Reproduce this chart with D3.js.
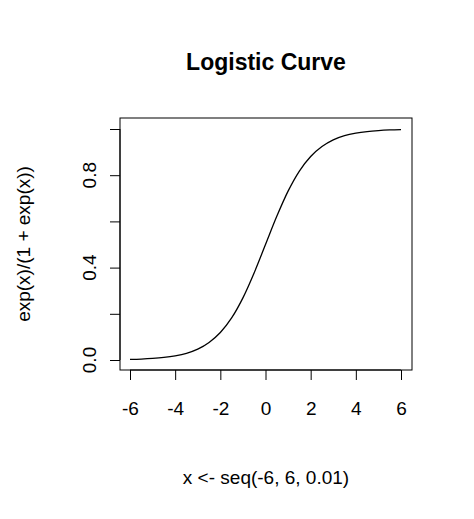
<!DOCTYPE html>
<html><head><meta charset="utf-8">
<script src="https://cdn.jsdelivr.net/npm/d3@7"></script>
<style>body{margin:0;background:#fff}text{font-family:"Liberation Sans",Arial,sans-serif}</style>
</head><body><svg id="c" width="474" height="519"></svg>
<script>
const xs = [-6,-5.5,-5,-4.5,-4,-3.5,-3,-2.5,-2,-1.5,-1,-0.5,0,0.5,1,1.5,2,2.5,3,3.5,4,4.5,5,5.5,6];
const ys = [0.0025,0.004,0.0067,0.011,0.018,0.029,0.047,0.076,0.119,0.182,0.269,0.378,0.5,0.622,0.731,0.818,0.881,0.924,0.953,0.971,0.982,0.989,0.9933,0.996,0.9975];
const xTicks = [-6,-4,-2,0,2,4,6];
const yTicks = [0,0.2,0.4,0.6,0.8,1.0];
const yLabelTicks = [0,0.4,0.8];

const svg = d3.select("#c");
const x = d3.scaleLinear().domain([-6,6]).range([130,401]);
const y = d3.scaleLinear().domain([0,1]).range([360,129]);
svg.append("rect").attr("x",120).attr("y",118).attr("width",292).attr("height",252)
  .attr("fill","none").attr("stroke","#000");
const line = d3.line().x((d,i)=>x(xs[i])).y(d=>y(d)).curve(d3.curveMonotoneX);
svg.append("path").datum(ys).attr("d",line).attr("fill","none").attr("stroke","#000").attr("stroke-width",1.3);

const gx = svg.append("g").attr("transform","translate(0,370)")
  .call(d3.axisBottom(x).tickValues(xTicks).tickSize(10).tickPadding(22).tickFormat(d=>String(d)));
gx.select(".domain").attr("d",`M${x(-6)},0H${x(6)}`);
gx.selectAll("text").attr("font-size",19).attr("font-family","Liberation Sans, Arial");
const gy = svg.append("g").attr("transform","translate(120,0)")
  .call(d3.axisLeft(y).tickValues(yTicks).tickSize(10).tickFormat(""));
gy.select(".domain").attr("d",`M0,${y(0)}V${y(1)}`);
svg.append("g").selectAll("text").data(yLabelTicks).join("text")
  .attr("transform",d=>`translate(96,${y(d)}) rotate(-90)`)
  .attr("text-anchor","middle").attr("font-size",19).text(d=>d.toFixed(1));

svg.append("text").attr("x",266).attr("y",70).attr("text-anchor","middle")
  .attr("font-size",23).attr("font-weight","bold").text("Logistic Curve");
svg.append("text").attr("x",266).attr("y",484).attr("text-anchor","middle")
  .attr("font-size",19).text("x <- seq(-6, 6, 0.01)");
svg.append("text").attr("transform","translate(30,244) rotate(-90)").attr("text-anchor","middle")
  .attr("font-size",19).text("exp(x)/(1 + exp(x))");
</script></body></html>
